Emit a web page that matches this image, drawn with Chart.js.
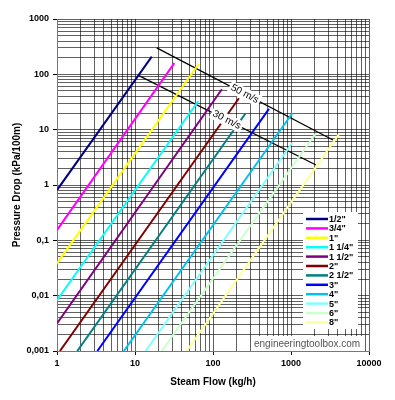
<!DOCTYPE html>
<html>
<head>
<meta charset="utf-8">
<script src="https://cdn.jsdelivr.net/npm/chart.js@4/dist/chart.umd.min.js"></script>
<style>
  html, body { margin: 0; padding: 0; background: #fff; }
  #wrap { width: 395px; height: 400px; position: relative; }
</style>
</head>
<body>
<div id="wrap"><canvas id="c" width="395" height="400"></canvas></div>
<script>
// ---- data ----
const sizes = ['1/2"', '3/4"', '1"', '1 1/4"', '1 1/2"', '2"', '2 1/2"', '3"', '4"', '5"', '6"', '8"'];
const colors = ['#000080', '#ff00ff', '#ffff00', '#00ffff', '#800080', '#800000', '#008080', '#0000ff', '#00c0f0', '#80ffff', '#ccffcc', '#ffff99'];
const flowStart = [1, 1, 1, 1, 1, 1.09, 1.82, 3.29, 7.2, 13.7, 22, 46];
const dropStart = [0.81, 0.153, 0.0384, 0.0083, 0.00315, 0.001, 0.001, 0.001, 0.001, 0.001, 0.001, 0.001];
const flowEnd = [16.4, 31.9, 65.5, 64.8, 130, 215, 262, 522, 1040, 1040, 2090, 4125];
const dropEnd = [209, 159, 154, 33, 53.8, 37, 19.8, 23.7, 19.8, 5.8, 8.6, 8.3];

const velocityLabels = ['50 m/s', '30 m/s'];
const velFlowStart = [19, 10.9];
const velDropStart = [300, 97];
const velFlowEnd = [3450, 2090];
const velDropEnd = [6.5, 2.3];

const xTickValues = [1, 10, 100, 1000, 10000];
const xTickLabels = ['1', '10', '100', '1000', '10000'];
const yTickValues = [0.001, 0.01, 0.1, 1, 10, 100, 1000];
const yTickLabels = ['0,001', '0,01', '0,1', '1', '10', '100', '1000'];

// ---- build ----
function gridTicks(majors) {
  const out = [];
  for (let i = 0; i < majors.length; i++) {
    out.push({ value: majors[i], major: true });
    if (i < majors.length - 1) {
      for (let k = 2; k <= 9; k++) out.push({ value: majors[i] * k, major: false });
    }
  }
  return out;
}
function labelFor(value, values, labels) {
  for (let i = 0; i < values.length; i++) {
    if (Math.abs(value - values[i]) / values[i] < 1e-6) return labels[i];
  }
  return '';
}

const datasets = [];
sizes.forEach((s, i) => {
  datasets.push({
    label: s,
    data: [{ x: flowStart[i], y: dropStart[i] }, { x: flowEnd[i], y: dropEnd[i] }],
    borderColor: colors[i],
    backgroundColor: colors[i],
    borderWidth: 2,
    showLine: true,
    pointRadius: 0
  });
});
velocityLabels.forEach((v, i) => {
  datasets.push({
    label: v,
    data: [{ x: velFlowStart[i], y: velDropStart[i] }, { x: velFlowEnd[i], y: velDropEnd[i] }],
    borderColor: '#000',
    borderWidth: 1.3,
    showLine: true,
    pointRadius: 0
  });
});

const gridColor = 'rgba(0,0,0,0.62)';
const tickFont = { family: 'Liberation Sans, Arial, sans-serif', size: 9, weight: 'bold' };

const overlay = {
  id: 'overlay',
  afterDatasetsDraw(chart) {
    const ctx = chart.ctx;
    const xs = chart.scales.x, ys = chart.scales.y;
    // velocity labels
    const labelFlow = [255, 150];
    velocityLabels.forEach((txt, i) => {
      const x1 = xs.getPixelForValue(velFlowStart[i]), y1 = ys.getPixelForValue(velDropStart[i]);
      const x2 = xs.getPixelForValue(velFlowEnd[i]), y2 = ys.getPixelForValue(velDropEnd[i]);
      const px = xs.getPixelForValue(labelFlow[i]);
      const t = (px - x1) / (x2 - x1);
      const py = y1 + t * (y2 - y1);
      const ang = Math.atan2(y2 - y1, x2 - x1);
      ctx.save();
      ctx.translate(px, py);
      ctx.rotate(ang);
      ctx.font = '10px "Liberation Sans", Arial, sans-serif';
      const w = ctx.measureText(txt).width + 4;
      ctx.fillStyle = '#fff';
      ctx.fillRect(-w / 2, -6, w, 12);
      ctx.fillStyle = '#000';
      ctx.textAlign = 'center';
      ctx.textBaseline = 'middle';
      ctx.fillText(txt, 0, 0);
      ctx.restore();
    });

    // legend box
    ctx.save();
    ctx.fillStyle = '#fff';
    ctx.fillRect(303, 212, 55, 117);
    ctx.font = 'bold 9px "Liberation Sans", Arial, sans-serif';
    ctx.textBaseline = 'middle';
    ctx.textAlign = 'left';
    sizes.forEach((s, i) => {
      const y = 219 + i * 9.4;
      ctx.strokeStyle = colors[i];
      ctx.lineWidth = 2.5;
      ctx.beginPath();
      ctx.moveTo(306, y);
      ctx.lineTo(328, y);
      ctx.stroke();
      ctx.fillStyle = '#000';
      ctx.fillText(s, 329, y + 0.5);
    });

    // watermark
    ctx.fillStyle = '#fff';
    ctx.font = '10px "Liberation Sans", Arial, sans-serif';
    const wm = 'engineeringtoolbox.com';
    const ww = ctx.measureText(wm).width;
    ctx.fillRect(251, 336, ww + 6, 15);
    ctx.fillStyle = '#555';
    ctx.textBaseline = 'middle';
    ctx.fillText(wm, 254, 344);
    ctx.restore();
  }
};

new Chart(document.getElementById('c'), {
  type: 'scatter',
  data: { datasets },
  plugins: [overlay],
  options: {
    responsive: false,
    animation: false,
    events: [],
    layout: { padding: { left: 0, top: 19, right: 26, bottom: 0 } },
    plugins: { legend: { display: false }, tooltip: { enabled: false } },
    scales: {
      x: {
        type: 'logarithmic',
        min: 1, max: 10000,
        afterBuildTicks: (s) => { s.ticks = gridTicks(xTickValues); },
        afterFit: (s) => { s.height = 49; },
        grid: {
          color: gridColor, lineWidth: 1, tickLength: 4,
          tickColor: (c) => (c.tick && c.tick.major ? '#000' : 'rgba(0,0,0,0)')
        },
        border: { color: '#777' },
        ticks: {
          autoSkip: false, maxRotation: 0, padding: 3, color: '#000', font: tickFont,
          callback: (v) => labelFor(v, xTickValues, xTickLabels)
        },
        title: {
          display: true, text: 'Steam Flow (kg/h)', color: '#000',
          font: { family: 'Liberation Sans, Arial, sans-serif', size: 10, weight: 'bold' },
          padding: { top: 0, bottom: 12 }
        }
      },
      y: {
        type: 'logarithmic',
        min: 0.001, max: 1000,
        afterBuildTicks: (s) => { s.ticks = gridTicks(yTickValues); },
        afterFit: (s) => { s.width = 57; },
        grid: {
          color: gridColor, lineWidth: 1, tickLength: 4,
          tickColor: (c) => (c.tick && c.tick.major ? '#000' : 'rgba(0,0,0,0)')
        },
        border: { color: '#777' },
        ticks: {
          autoSkip: false, padding: 4, color: '#000', font: tickFont,
          callback: (v) => labelFor(v, yTickValues, yTickLabels)
        },
        title: {
          display: true, text: 'Pressure Drop (kPa/100m)', color: '#000',
          font: { family: 'Liberation Sans, Arial, sans-serif', size: 10, weight: 'bold' },
          padding: { top: 11, bottom: 0 }
        }
      }
    }
  }
});
</script>
</body>
</html>
